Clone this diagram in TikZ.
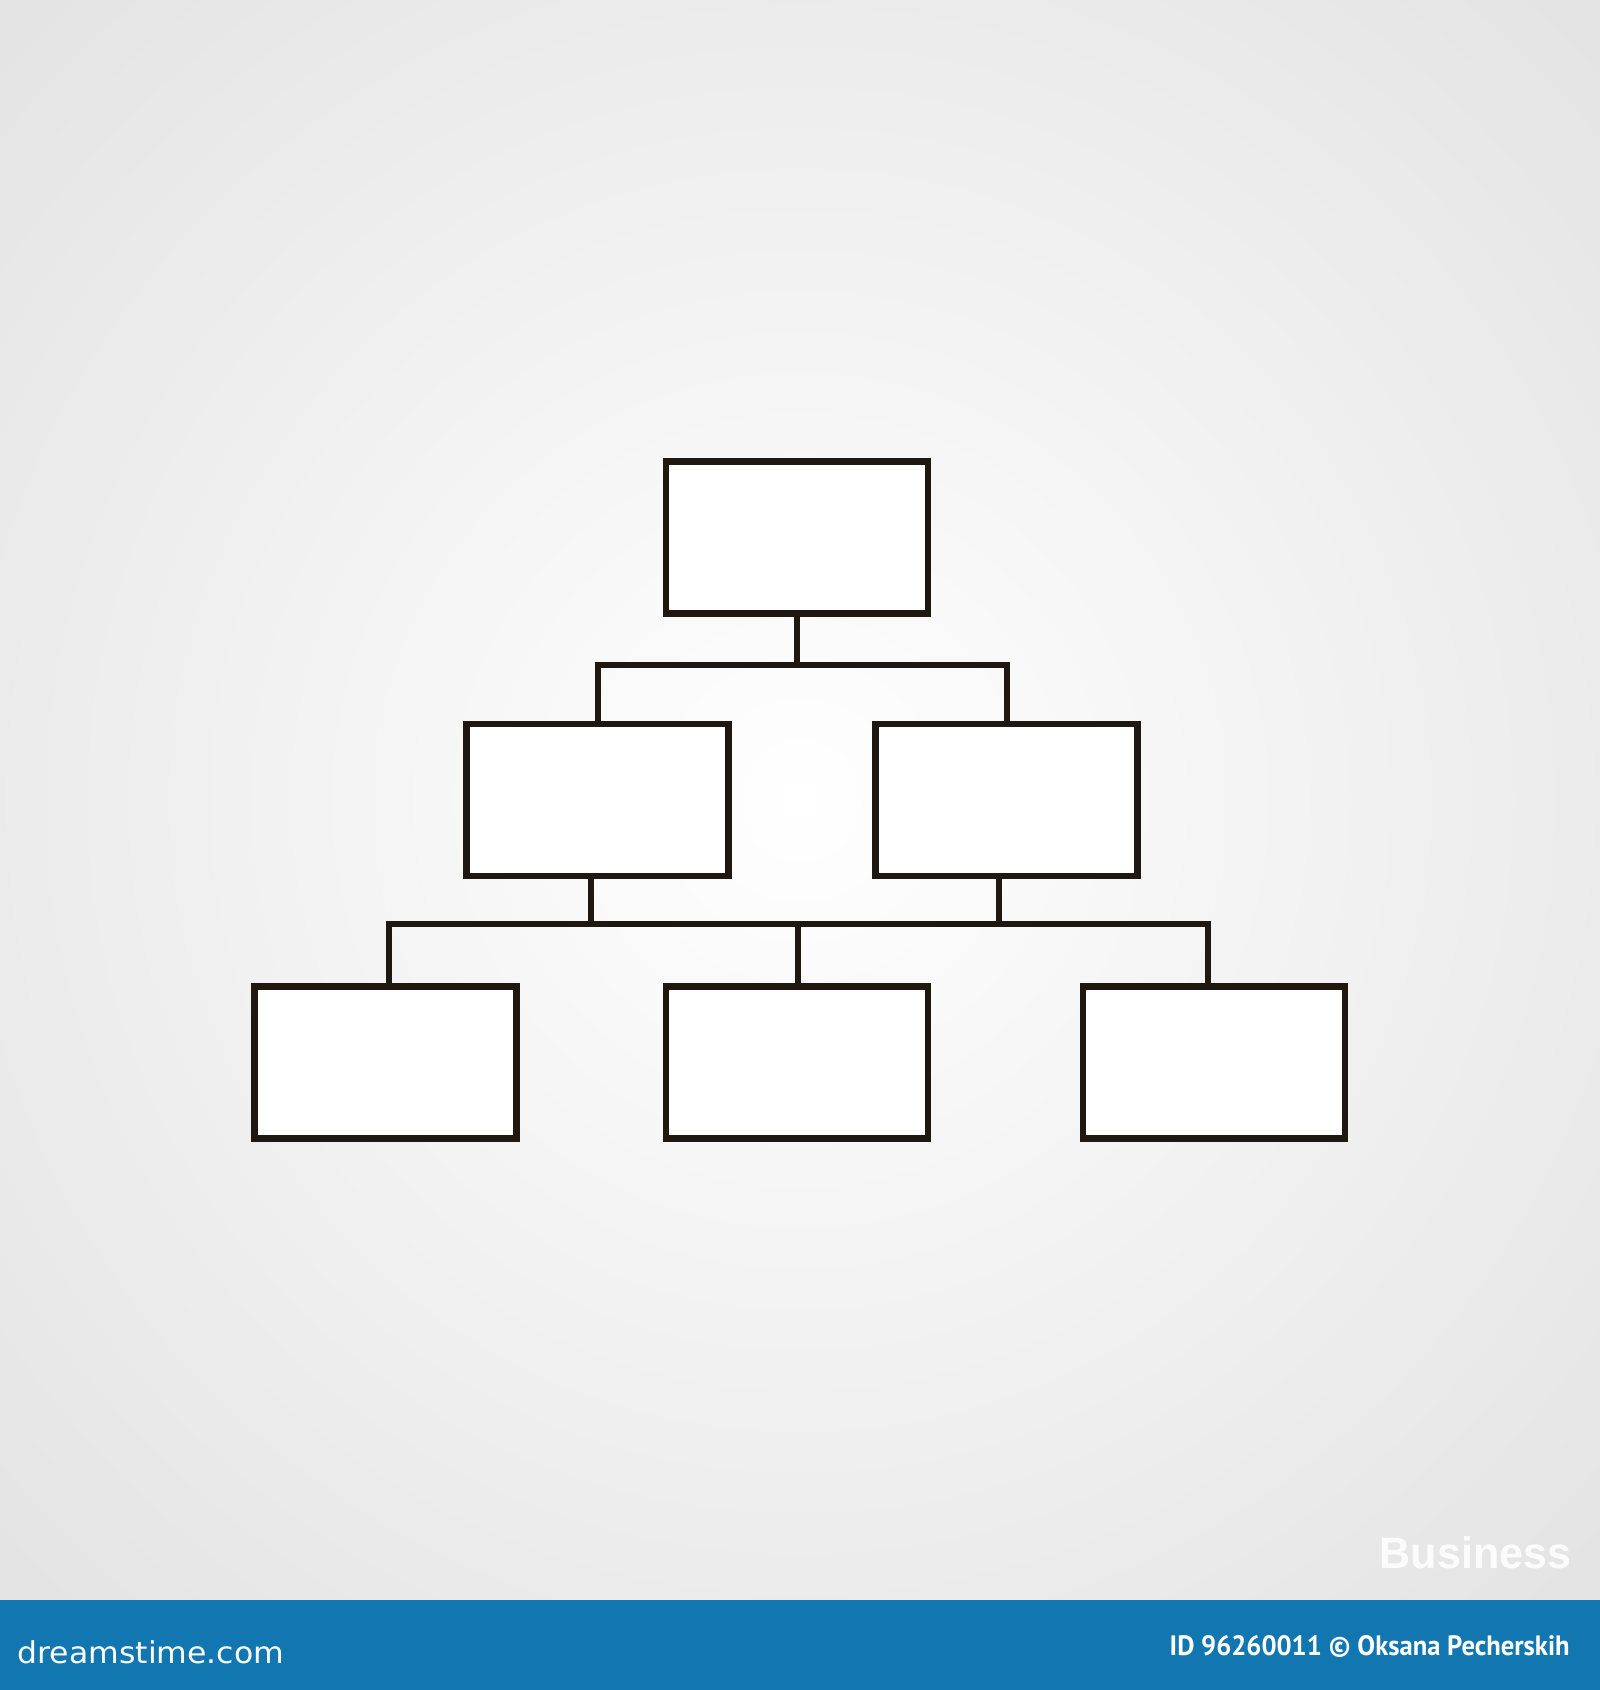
\documentclass[tikz,border=0pt]{standalone}
\usepackage{fontspec}
\setmainfont{PT Sans}
\newfontfamily\logofont{DejaVu Sans}
\newfontfamily\headfont{Liberation Sans}
\definecolor{inkline}{HTML}{1E1810}
\definecolor{barblue}{HTML}{1277B0}
\definecolor{edgegray}{HTML}{E4E4E4}
\tikzset{
  box/.style={draw=inkline, line width=6.5pt, fill=white, minimum width=262pt, minimum height=152pt, inner sep=0pt},
  link/.style={draw=inkline, line width=6pt},
}
\begin{document}
\begin{tikzpicture}[x=1pt, y=-1pt]
\useasboundingbox (0,0) rectangle (1600,1690);
\shade[inner color=white, outer color=edgegray] (-300,-300) rectangle (1900,1900);
\fill[barblue] (0,1600) rectangle (1600,1690);
\node[](top) at (797,537.5) [box] {};
\node[](midL) at (597.5,800) [box] {};
\node[](midR) at (1006.5,800) [box] {};
\node[](botL) at (385.5,1062.5) [box] {};
\node[](botM) at (797,1062.5) [box] {};
\node[](botR) at (1214,1062.5) [box] {};
\coordinate (bar1) at (797,665);
\coordinate (bar2) at (798,924);
\draw[link] (top.south) -- (bar1);
\draw[link] (midL.north) -- (midL.north |- bar1) -- (midR.north |- bar1) -- (midR.north);
\draw[link] ([xshift=-7pt]midL.south) -- ([xshift=-7pt]midL.south |- bar2);
\draw[link] ([xshift=-8pt]midR.south) -- ([xshift=-8pt]midR.south |- bar2);
\draw[link] ([xshift=3.5pt]botL.north) -- ([xshift=3.5pt]botL.north |- bar2) -- ([xshift=-6pt]botR.north |- bar2) -- ([xshift=-6pt]botR.north);
\draw[link] (bar2) -- (bar2 |- botM.north);
\node[anchor=west, text=white, font=\logofont\fontsize{30}{30}\selectfont, xscale=1.05] (logo) at (14,1652) {dreamstime.com};
\node[anchor=east, text=white, font=\bfseries\fontsize{28}{28}\selectfont, xscale=0.95] (credit) at (1573,1646) {ID 96260011 © Oksana Pecherskih};
\node[anchor=east, text=white, opacity=0.85, font=\headfont\bfseries\fontsize{44}{44}\selectfont, xscale=0.98] (tag) at (1575,1553) {Business};
\end{tikzpicture}
\end{document}
